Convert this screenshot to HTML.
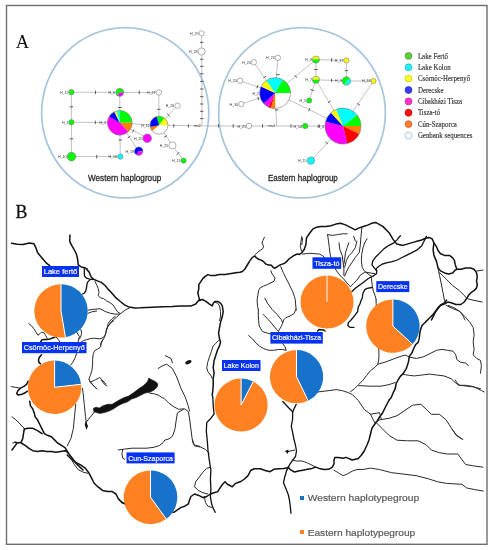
<!DOCTYPE html><html><head><meta charset="utf-8"><style>html,body{margin:0;padding:0;background:#fff;}body{width:492px;height:550px;overflow:hidden;position:relative;}svg{position:absolute;left:0;top:0;}</style></head><body>
<svg width="492" height="550" viewBox="0 0 492 550">
<rect x="6.5" y="5.5" width="480.5" height="538.8" fill="none" stroke="#6e6e6e" stroke-width="1.4"/>
<text x="15.8" y="47.6" font-family="Liberation Serif, serif" font-size="18.5" fill="#111">A</text>
<ellipse cx="125.2" cy="112.8" rx="83.6" ry="85.2" fill="none" stroke="#a6c4de" stroke-width="1.7"/>
<ellipse cx="302.0" cy="112.8" rx="83.4" ry="85.2" fill="none" stroke="#a6c4de" stroke-width="1.7"/>
<line x1="71.4" y1="92.2" x2="119.8" y2="92.4" stroke="#a8a8a8" stroke-width="0.7"/><line x1="71.4" y1="92.2" x2="71.4" y2="122.2" stroke="#a8a8a8" stroke-width="0.7"/><line x1="71.4" y1="122.2" x2="71.5" y2="156.6" stroke="#a8a8a8" stroke-width="0.7"/><line x1="71.5" y1="156.6" x2="120.3" y2="156.6" stroke="#a8a8a8" stroke-width="0.7"/><line x1="120.3" y1="156.6" x2="119.8" y2="122.8" stroke="#a8a8a8" stroke-width="0.7"/><line x1="71.4" y1="122.2" x2="119.8" y2="122.8" stroke="#a8a8a8" stroke-width="0.7"/><line x1="119.8" y1="92.4" x2="119.8" y2="122.8" stroke="#a8a8a8" stroke-width="0.7"/><line x1="119.8" y1="92.4" x2="158.8" y2="92.5" stroke="#a8a8a8" stroke-width="0.7"/><line x1="158.8" y1="92.5" x2="159.0" y2="125.2" stroke="#a8a8a8" stroke-width="0.7"/><line x1="177.5" y1="105.7" x2="159.0" y2="125.2" stroke="#a8a8a8" stroke-width="0.7"/><line x1="119.8" y1="122.8" x2="150" y2="125" stroke="#a8a8a8" stroke-width="0.7"/><line x1="119.8" y1="122.8" x2="147.2" y2="138.2" stroke="#a8a8a8" stroke-width="0.7"/><line x1="119.8" y1="122.8" x2="138.7" y2="151.2" stroke="#a8a8a8" stroke-width="0.7"/><line x1="159.0" y1="125.2" x2="172.4" y2="145.4" stroke="#a8a8a8" stroke-width="0.7"/><line x1="172.4" y1="145.4" x2="183.6" y2="160.6" stroke="#a8a8a8" stroke-width="0.7"/><line x1="159.0" y1="125.2" x2="202.0" y2="125.9" stroke="#a8a8a8" stroke-width="0.7"/><line x1="201.6" y1="33.3" x2="202.0" y2="125.9" stroke="#a8a8a8" stroke-width="0.7"/><line x1="202.0" y1="125.9" x2="249.0" y2="126.0" stroke="#a8a8a8" stroke-width="0.7"/><line x1="249.0" y1="126.0" x2="276.7" y2="126.0" stroke="#a8a8a8" stroke-width="0.7"/><line x1="276.7" y1="126.0" x2="305.2" y2="126.0" stroke="#a8a8a8" stroke-width="0.7"/><line x1="305.2" y1="126.0" x2="343.0" y2="126.1" stroke="#a8a8a8" stroke-width="0.7"/><line x1="276.7" y1="126.0" x2="275.1" y2="93.1" stroke="#a8a8a8" stroke-width="0.7"/><line x1="275.1" y1="93.1" x2="277.9" y2="57.8" stroke="#a8a8a8" stroke-width="0.7"/><line x1="275.1" y1="93.1" x2="253.9" y2="62.3" stroke="#a8a8a8" stroke-width="0.7"/><line x1="275.1" y1="93.1" x2="240.0" y2="80.7" stroke="#a8a8a8" stroke-width="0.7"/><line x1="275.1" y1="93.1" x2="241.3" y2="104.0" stroke="#a8a8a8" stroke-width="0.7"/><line x1="275.1" y1="93.1" x2="315.9" y2="59.6" stroke="#a8a8a8" stroke-width="0.7"/><line x1="275.1" y1="93.1" x2="343.0" y2="126.1" stroke="#a8a8a8" stroke-width="0.7"/><line x1="315.9" y1="59.6" x2="346.4" y2="60.4" stroke="#a8a8a8" stroke-width="0.7"/><line x1="315.9" y1="59.6" x2="315.9" y2="79.8" stroke="#a8a8a8" stroke-width="0.7"/><line x1="346.4" y1="60.4" x2="346.4" y2="81.0" stroke="#a8a8a8" stroke-width="0.7"/><line x1="315.9" y1="79.8" x2="346.4" y2="81.0" stroke="#a8a8a8" stroke-width="0.7"/><line x1="346.4" y1="81.0" x2="373.5" y2="81.0" stroke="#a8a8a8" stroke-width="0.7"/><line x1="373.5" y1="81.0" x2="343.0" y2="126.1" stroke="#a8a8a8" stroke-width="0.7"/><line x1="315.9" y1="79.8" x2="343.0" y2="126.1" stroke="#a8a8a8" stroke-width="0.7"/><line x1="315.9" y1="79.8" x2="309.2" y2="100.5" stroke="#a8a8a8" stroke-width="0.7"/><line x1="311.0" y1="160.6" x2="343.0" y2="126.1" stroke="#a8a8a8" stroke-width="0.7"/><line x1="95.50" y1="90.60" x2="95.50" y2="94.00" stroke="#4a4a4a" stroke-width="0.9"/><line x1="139.30" y1="90.70" x2="139.30" y2="94.10" stroke="#4a4a4a" stroke-width="0.9"/><line x1="95.30" y1="120.70" x2="95.30" y2="124.10" stroke="#4a4a4a" stroke-width="0.9"/><line x1="73.10" y1="106.80" x2="69.70" y2="106.80" stroke="#4a4a4a" stroke-width="0.9"/><line x1="73.20" y1="138.80" x2="69.80" y2="138.80" stroke="#4a4a4a" stroke-width="0.9"/><line x1="96.70" y1="154.90" x2="96.70" y2="158.30" stroke="#4a4a4a" stroke-width="0.9"/><line x1="121.50" y1="107.50" x2="118.10" y2="107.50" stroke="#4a4a4a" stroke-width="0.9"/><line x1="122.00" y1="140.00" x2="118.60" y2="140.00" stroke="#4a4a4a" stroke-width="0.9"/><line x1="160.50" y1="109.30" x2="157.10" y2="109.30" stroke="#4a4a4a" stroke-width="0.9"/><line x1="169.73" y1="116.17" x2="167.27" y2="113.83" stroke="#4a4a4a" stroke-width="0.9"/><line x1="134.03" y1="129.52" x2="132.37" y2="132.48" stroke="#4a4a4a" stroke-width="0.9"/><line x1="130.52" y1="136.06" x2="127.68" y2="137.94" stroke="#4a4a4a" stroke-width="0.9"/><line x1="166.92" y1="135.56" x2="164.08" y2="137.44" stroke="#4a4a4a" stroke-width="0.9"/><line x1="179.37" y1="152.49" x2="176.63" y2="154.51" stroke="#4a4a4a" stroke-width="0.9"/><line x1="173.80" y1="124.10" x2="173.80" y2="127.50" stroke="#4a4a4a" stroke-width="0.9"/><line x1="188.40" y1="124.20" x2="188.40" y2="127.60" stroke="#4a4a4a" stroke-width="0.9"/><line x1="218.40" y1="124.20" x2="218.40" y2="127.60" stroke="#4a4a4a" stroke-width="0.9"/><line x1="233.20" y1="124.30" x2="233.20" y2="127.70" stroke="#4a4a4a" stroke-width="0.9"/><line x1="262.50" y1="124.30" x2="262.50" y2="127.70" stroke="#4a4a4a" stroke-width="0.9"/><line x1="291.00" y1="124.30" x2="291.00" y2="127.70" stroke="#4a4a4a" stroke-width="0.9"/><line x1="319.00" y1="124.30" x2="319.00" y2="127.70" stroke="#4a4a4a" stroke-width="0.9"/><line x1="203.30" y1="42.40" x2="199.90" y2="42.40" stroke="#4a4a4a" stroke-width="0.9"/><line x1="203.50" y1="59.30" x2="200.10" y2="59.30" stroke="#4a4a4a" stroke-width="0.9"/><line x1="203.50" y1="66.40" x2="200.10" y2="66.40" stroke="#4a4a4a" stroke-width="0.9"/><line x1="203.50" y1="73.80" x2="200.10" y2="73.80" stroke="#4a4a4a" stroke-width="0.9"/><line x1="203.50" y1="81.40" x2="200.10" y2="81.40" stroke="#4a4a4a" stroke-width="0.9"/><line x1="203.50" y1="89.00" x2="200.10" y2="89.00" stroke="#4a4a4a" stroke-width="0.9"/><line x1="203.50" y1="96.70" x2="200.10" y2="96.70" stroke="#4a4a4a" stroke-width="0.9"/><line x1="203.50" y1="104.00" x2="200.10" y2="104.00" stroke="#4a4a4a" stroke-width="0.9"/><line x1="203.50" y1="111.30" x2="200.10" y2="111.30" stroke="#4a4a4a" stroke-width="0.9"/><line x1="203.50" y1="118.60" x2="200.10" y2="118.60" stroke="#4a4a4a" stroke-width="0.9"/><line x1="278.40" y1="110.00" x2="275.00" y2="110.00" stroke="#4a4a4a" stroke-width="0.9"/><line x1="279.60" y1="74.70" x2="276.20" y2="74.70" stroke="#4a4a4a" stroke-width="0.9"/><line x1="266.10" y1="76.04" x2="263.30" y2="77.96" stroke="#4a4a4a" stroke-width="0.9"/><line x1="257.97" y1="85.00" x2="256.83" y2="88.20" stroke="#4a4a4a" stroke-width="0.9"/><line x1="257.78" y1="96.78" x2="258.82" y2="100.02" stroke="#4a4a4a" stroke-width="0.9"/><line x1="296.88" y1="77.81" x2="294.72" y2="75.19" stroke="#4a4a4a" stroke-width="0.9"/><line x1="310.04" y1="108.07" x2="308.56" y2="111.13" stroke="#4a4a4a" stroke-width="0.9"/><line x1="331.60" y1="58.20" x2="331.60" y2="61.60" stroke="#4a4a4a" stroke-width="0.9"/><line x1="331.60" y1="78.60" x2="331.60" y2="82.00" stroke="#4a4a4a" stroke-width="0.9"/><line x1="317.60" y1="69.50" x2="314.20" y2="69.50" stroke="#4a4a4a" stroke-width="0.9"/><line x1="348.10" y1="70.70" x2="344.70" y2="70.70" stroke="#4a4a4a" stroke-width="0.9"/><line x1="360.11" y1="105.35" x2="357.29" y2="103.45" stroke="#4a4a4a" stroke-width="0.9"/><line x1="330.87" y1="100.94" x2="327.93" y2="102.66" stroke="#4a4a4a" stroke-width="0.9"/><line x1="313.72" y1="90.52" x2="310.48" y2="89.48" stroke="#4a4a4a" stroke-width="0.9"/><line x1="325.35" y1="141.64" x2="327.85" y2="143.96" stroke="#4a4a4a" stroke-width="0.9"/><circle cx="71.4" cy="92.2" r="2.6" fill="#00ff00"/><circle cx="71.4" cy="92.2" r="2.6" fill="none" stroke="#7a7a7a" stroke-width="0.6"/><circle cx="71.4" cy="122.2" r="2.6" fill="#00ff00"/><circle cx="71.4" cy="122.2" r="2.6" fill="none" stroke="#7a7a7a" stroke-width="0.6"/><circle cx="71.5" cy="156.6" r="4.3" fill="#00ff00"/><circle cx="71.5" cy="156.6" r="4.3" fill="none" stroke="#7a7a7a" stroke-width="0.6"/><circle cx="120.3" cy="156.6" r="2.7" fill="#00ffff"/><circle cx="120.3" cy="156.6" r="2.7" fill="none" stroke="#7a7a7a" stroke-width="0.6"/><path d="M119.80,92.40L117.51,95.68A4.00,4.00 0 1 1 123.78,92.75Z" fill="#00ff00"/><path d="M119.80,92.40L123.78,92.75A4.00,4.00 0 0 1 117.51,95.68Z" fill="#ff00ff"/><circle cx="119.8" cy="92.4" r="4.0" fill="none" stroke="#7a7a7a" stroke-width="0.6"/><circle cx="158.8" cy="92.5" r="2.7" fill="#ffffff"/><circle cx="158.8" cy="92.5" r="2.7" fill="none" stroke="#7a7a7a" stroke-width="0.6"/><circle cx="177.5" cy="105.7" r="2.7" fill="#ffffff"/><circle cx="177.5" cy="105.7" r="2.7" fill="none" stroke="#7a7a7a" stroke-width="0.6"/><circle cx="172.4" cy="145.4" r="3.6" fill="#ffffff"/><circle cx="172.4" cy="145.4" r="3.6" fill="none" stroke="#7a7a7a" stroke-width="0.6"/><circle cx="183.6" cy="160.6" r="2.6" fill="#00ff00"/><circle cx="183.6" cy="160.6" r="2.6" fill="none" stroke="#7a7a7a" stroke-width="0.6"/><circle cx="147.2" cy="138.2" r="4.3" fill="#ff00ff"/><circle cx="147.2" cy="138.2" r="4.3" fill="none" stroke="#7a7a7a" stroke-width="0.6"/><path d="M138.70,151.20L136.60,154.84A4.20,4.20 0 1 1 142.88,151.57Z" fill="#0000ff"/><path d="M138.70,151.20L142.88,151.57A4.20,4.20 0 0 1 136.60,154.84Z" fill="#ff00ff"/><circle cx="138.7" cy="151.2" r="4.2" fill="none" stroke="#7a7a7a" stroke-width="0.6"/><path d="M119.80,122.80L119.80,110.40A12.40,12.40 0 0 1 132.20,122.80Z" fill="#00ff00"/><path d="M119.80,122.80L132.20,122.80A12.40,12.40 0 0 1 128.26,131.87Z" fill="#ff8000"/><path d="M119.80,122.80L128.26,131.87A12.40,12.40 0 0 1 109.06,116.60Z" fill="#ff00ff"/><path d="M119.80,122.80L109.06,116.60A12.40,12.40 0 0 1 114.36,111.65Z" fill="#0000ff"/><path d="M119.80,122.80L114.36,111.65A12.40,12.40 0 0 1 116.80,110.77Z" fill="#ffff00"/><path d="M119.80,122.80L116.80,110.77A12.40,12.40 0 0 1 119.80,110.40Z" fill="#00ffff"/><circle cx="119.8" cy="122.8" r="12.4" fill="none" stroke="#7a7a7a" stroke-width="0.6"/><path d="M159.00,125.20L156.59,116.53A9.00,9.00 0 0 1 164.42,118.01Z" fill="#00ff00"/><path d="M159.00,125.20L164.42,118.01A9.00,9.00 0 0 1 168.00,125.20Z" fill="#ffff00"/><path d="M159.00,125.20L168.00,125.20A9.00,9.00 0 0 1 152.11,130.99Z" fill="#ffffff"/><path d="M159.00,125.20L152.11,130.99A9.00,9.00 0 0 1 150.18,126.99Z" fill="#ff8000"/><path d="M159.00,125.20L150.18,126.99A9.00,9.00 0 0 1 156.59,116.53Z" fill="#0000ff"/><circle cx="159.0" cy="125.2" r="9.0" fill="none" stroke="#7a7a7a" stroke-width="0.6"/><circle cx="201.6" cy="33.3" r="2.6" fill="#ffffff"/><circle cx="201.6" cy="33.3" r="2.6" fill="none" stroke="#7a7a7a" stroke-width="0.6"/><circle cx="201.6" cy="51.5" r="3.6" fill="#ffffff"/><circle cx="201.6" cy="51.5" r="3.6" fill="none" stroke="#7a7a7a" stroke-width="0.6"/><path d="M275.10,93.10L266.21,80.40A15.50,15.50 0 0 1 282.85,79.68Z" fill="#00ffff"/><path d="M275.10,93.10L282.85,79.68A15.50,15.50 0 0 1 290.60,93.10Z" fill="#00ff00"/><path d="M275.10,93.10L290.60,93.10A15.50,15.50 0 0 1 275.10,108.60Z" fill="#ffffff"/><path d="M275.10,93.10L275.10,108.60A15.50,15.50 0 0 1 270.91,108.02Z" fill="#ff8000"/><path d="M275.10,93.10L270.91,108.02A15.50,15.50 0 0 1 268.55,107.15Z" fill="#ff0000"/><path d="M275.10,93.10L268.55,107.15A15.50,15.50 0 0 1 263.67,103.57Z" fill="#ff00ff"/><path d="M275.10,93.10L263.67,103.57A15.50,15.50 0 0 1 261.05,86.55Z" fill="#0000ff"/><path d="M275.10,93.10L261.05,86.55A15.50,15.50 0 0 1 266.21,80.40Z" fill="#ffff00"/><circle cx="275.1" cy="93.1" r="15.5" fill="none" stroke="#7a7a7a" stroke-width="0.6"/><circle cx="277.9" cy="57.8" r="2.7" fill="#ffffff"/><circle cx="277.9" cy="57.8" r="2.7" fill="none" stroke="#7a7a7a" stroke-width="0.6"/><circle cx="253.9" cy="62.3" r="2.7" fill="#ffffff"/><circle cx="253.9" cy="62.3" r="2.7" fill="none" stroke="#7a7a7a" stroke-width="0.6"/><circle cx="240.0" cy="80.7" r="2.7" fill="#ffffff"/><circle cx="240.0" cy="80.7" r="2.7" fill="none" stroke="#7a7a7a" stroke-width="0.6"/><circle cx="241.3" cy="104.0" r="2.7" fill="#ffffff"/><circle cx="241.3" cy="104.0" r="2.7" fill="none" stroke="#7a7a7a" stroke-width="0.6"/><circle cx="249.0" cy="126.0" r="2.7" fill="#ffffff"/><circle cx="249.0" cy="126.0" r="2.7" fill="none" stroke="#7a7a7a" stroke-width="0.6"/><circle cx="305.2" cy="126.0" r="2.7" fill="#00ff00"/><circle cx="305.2" cy="126.0" r="2.7" fill="none" stroke="#7a7a7a" stroke-width="0.6"/><circle cx="309.2" cy="100.5" r="2.6" fill="#00ff00"/><circle cx="309.2" cy="100.5" r="2.6" fill="none" stroke="#7a7a7a" stroke-width="0.6"/><circle cx="346.4" cy="60.4" r="2.6" fill="#ffff00"/><circle cx="346.4" cy="60.4" r="2.6" fill="none" stroke="#7a7a7a" stroke-width="0.6"/><circle cx="373.5" cy="81.0" r="2.6" fill="#ffff00"/><circle cx="373.5" cy="81.0" r="2.6" fill="none" stroke="#7a7a7a" stroke-width="0.6"/><circle cx="311.0" cy="160.6" r="3.7" fill="#00ffff"/><circle cx="311.0" cy="160.6" r="3.7" fill="none" stroke="#7a7a7a" stroke-width="0.6"/><path d="M343.00,126.10L335.97,109.53A18.00,18.00 0 0 1 357.18,115.02Z" fill="#00ffff"/><path d="M343.00,126.10L357.18,115.02A18.00,18.00 0 0 1 361.00,126.10Z" fill="#00ff00"/><path d="M343.00,126.10L361.00,126.10A18.00,18.00 0 0 1 359.18,133.99Z" fill="#ff8000"/><path d="M343.00,126.10L359.18,133.99A18.00,18.00 0 0 1 347.20,143.60Z" fill="#ff0000"/><path d="M343.00,126.10L347.20,143.60A18.00,18.00 0 0 1 325.53,121.75Z" fill="#ff00ff"/><path d="M343.00,126.10L325.53,121.75A18.00,18.00 0 0 1 331.05,112.64Z" fill="#0000ff"/><path d="M343.00,126.10L331.05,112.64A18.00,18.00 0 0 1 335.97,109.53Z" fill="#ffff00"/><circle cx="343.0" cy="126.1" r="18.0" fill="none" stroke="#7a7a7a" stroke-width="0.6"/><path d="M315.90,59.60L312.31,59.29A3.60,3.60 0 0 1 319.49,59.29Z" fill="#ffff00"/><path d="M315.90,59.60L319.49,59.29A3.60,3.60 0 1 1 312.31,59.29Z" fill="#00ff00"/><circle cx="315.9" cy="59.6" r="3.6" fill="none" stroke="#7a7a7a" stroke-width="0.6"/><path d="M315.90,79.80L312.31,79.49A3.60,3.60 0 0 1 319.49,79.49Z" fill="#ffff00"/><path d="M315.90,79.80L319.49,79.49A3.60,3.60 0 1 1 312.31,79.49Z" fill="#00ff00"/><circle cx="315.9" cy="79.8" r="3.6" fill="none" stroke="#7a7a7a" stroke-width="0.6"/><path d="M346.40,81.00L344.93,85.04A4.30,4.30 0 1 1 350.12,78.85Z" fill="#00ff00"/><path d="M346.40,81.00L350.12,78.85A4.30,4.30 0 0 1 344.93,85.04Z" fill="#00ffff"/><circle cx="346.4" cy="81.0" r="4.3" fill="none" stroke="#7a7a7a" stroke-width="0.6"/><text x="68.5" y="93.5" font-size="3.6" text-anchor="end" fill="#333" font-family="Liberation Sans, sans-serif">H_12</text><text x="115" y="93.8" font-size="3.6" text-anchor="end" fill="#333" font-family="Liberation Sans, sans-serif">H_6</text><text x="68.5" y="123.6" font-size="3.6" text-anchor="end" fill="#333" font-family="Liberation Sans, sans-serif">H_1</text><text x="106" y="124" font-size="3.6" text-anchor="end" fill="#333" font-family="Liberation Sans, sans-serif">H_3</text><text x="66.5" y="158" font-size="3.6" text-anchor="end" fill="#333" font-family="Liberation Sans, sans-serif">H_10</text><text x="117" y="158" font-size="3.6" text-anchor="end" fill="#333" font-family="Liberation Sans, sans-serif">H_16</text><text x="155.5" y="94" font-size="3.6" text-anchor="end" fill="#333" font-family="Liberation Sans, sans-serif">H_27</text><text x="174.3" y="107" font-size="3.6" text-anchor="end" fill="#333" font-family="Liberation Sans, sans-serif">H_26</text><text x="149.5" y="126.8" font-size="3.6" text-anchor="end" fill="#333" font-family="Liberation Sans, sans-serif">H_11</text><text x="142.5" y="139.6" font-size="3.6" text-anchor="end" fill="#333" font-family="Liberation Sans, sans-serif">H_20</text><text x="134" y="152.6" font-size="3.6" text-anchor="end" fill="#333" font-family="Liberation Sans, sans-serif">H_19</text><text x="168.3" y="147" font-size="3.6" text-anchor="end" fill="#333" font-family="Liberation Sans, sans-serif">H_25</text><text x="180.5" y="162" font-size="3.6" text-anchor="end" fill="#333" font-family="Liberation Sans, sans-serif">H_13</text><text x="198.6" y="34.8" font-size="3.6" text-anchor="end" fill="#333" font-family="Liberation Sans, sans-serif">H_29</text><text x="197.6" y="53" font-size="3.6" text-anchor="end" fill="#333" font-family="Liberation Sans, sans-serif">H_28</text><text x="274.7" y="59.3" font-size="3.6" text-anchor="end" fill="#333" font-family="Liberation Sans, sans-serif">H_22</text><text x="250.8" y="63.8" font-size="3.6" text-anchor="end" fill="#333" font-family="Liberation Sans, sans-serif">H_23</text><text x="236.8" y="82.2" font-size="3.6" text-anchor="end" fill="#333" font-family="Liberation Sans, sans-serif">H_24</text><text x="238.2" y="105.5" font-size="3.6" text-anchor="end" fill="#333" font-family="Liberation Sans, sans-serif">H_30</text><text x="259" y="94.6" font-size="3.6" text-anchor="end" fill="#333" font-family="Liberation Sans, sans-serif">H_2</text><text x="246" y="127.5" font-size="3.6" text-anchor="end" fill="#333" font-family="Liberation Sans, sans-serif">H_21</text><text x="302" y="127.5" font-size="3.6" text-anchor="end" fill="#333" font-family="Liberation Sans, sans-serif">H_14</text><text x="324" y="127.5" font-size="3.6" text-anchor="end" fill="#333" font-family="Liberation Sans, sans-serif">H_4</text><text x="306" y="102" font-size="3.6" text-anchor="end" fill="#333" font-family="Liberation Sans, sans-serif">H_5</text><text x="311.9" y="61" font-size="3.6" text-anchor="end" fill="#333" font-family="Liberation Sans, sans-serif">H_8</text><text x="311.9" y="81.2" font-size="3.6" text-anchor="end" fill="#333" font-family="Liberation Sans, sans-serif">H_7</text><text x="343.4" y="61.8" font-size="3.6" text-anchor="end" fill="#333" font-family="Liberation Sans, sans-serif">H_17</text><text x="341.7" y="82.4" font-size="3.6" text-anchor="end" fill="#333" font-family="Liberation Sans, sans-serif">H_9</text><text x="370.5" y="82.4" font-size="3.6" text-anchor="end" fill="#333" font-family="Liberation Sans, sans-serif">H_18</text><text x="306.6" y="162" font-size="3.6" text-anchor="end" fill="#333" font-family="Liberation Sans, sans-serif">H_15</text><text x="200.8" y="127.3" font-size="3.6" text-anchor="end" fill="#333" font-family="Liberation Sans, sans-serif">mv2</text><text x="275.2" y="127.4" font-size="3.6" text-anchor="end" fill="#333" font-family="Liberation Sans, sans-serif">mv1</text>
<text x="88" y="181.2" font-family="Liberation Sans, sans-serif" font-size="9.1" fill="#2a2a2a" stroke="#2a2a2a" stroke-width="0.3" textLength="73.2" lengthAdjust="spacingAndGlyphs">Western haplogroup</text>
<text x="268" y="181.2" font-family="Liberation Sans, sans-serif" font-size="9.1" fill="#2a2a2a" stroke="#2a2a2a" stroke-width="0.3" textLength="69.8" lengthAdjust="spacingAndGlyphs">Eastern haplogroup</text>
<circle cx="408.5" cy="55.90" r="3.45" fill="#5ccc3c" stroke="#4aa02a" stroke-width="0.7"/>
<text x="417.9" y="58.60" font-family="Liberation Serif, serif" font-size="7.9" fill="#333" stroke="#333" stroke-width="0.15" textLength="30.1" lengthAdjust="spacingAndGlyphs">Lake Fertő</text>
<circle cx="408.5" cy="67.27" r="3.45" fill="#22eeee" stroke="#1cb8c0" stroke-width="0.7"/>
<text x="417.9" y="69.97" font-family="Liberation Serif, serif" font-size="7.9" fill="#333" stroke="#333" stroke-width="0.15" textLength="32.8" lengthAdjust="spacingAndGlyphs">Lake Kolon</text>
<circle cx="408.5" cy="78.64" r="3.45" fill="#ffff22" stroke="#c0c020" stroke-width="0.7"/>
<text x="417.9" y="81.34" font-family="Liberation Serif, serif" font-size="7.9" fill="#333" stroke="#333" stroke-width="0.15" textLength="52.3" lengthAdjust="spacingAndGlyphs">Csörnöc-Herpenyő</text>
<circle cx="408.5" cy="90.01" r="3.45" fill="#3a3af0" stroke="#2a2ac0" stroke-width="0.7"/>
<text x="417.9" y="92.71" font-family="Liberation Serif, serif" font-size="7.9" fill="#333" stroke="#333" stroke-width="0.15" textLength="25.7" lengthAdjust="spacingAndGlyphs">Derecske</text>
<circle cx="408.5" cy="101.38" r="3.45" fill="#ff33cc" stroke="#c020a0" stroke-width="0.7"/>
<text x="417.9" y="104.08" font-family="Liberation Serif, serif" font-size="7.9" fill="#333" stroke="#333" stroke-width="0.15" textLength="44.2" lengthAdjust="spacingAndGlyphs">Cibakházi Tisza</text>
<circle cx="408.5" cy="112.75" r="3.45" fill="#ff1010" stroke="#c00000" stroke-width="0.7"/>
<text x="417.9" y="115.45" font-family="Liberation Serif, serif" font-size="7.9" fill="#333" stroke="#333" stroke-width="0.15" textLength="22.3" lengthAdjust="spacingAndGlyphs">Tisza-tó</text>
<circle cx="408.5" cy="124.12" r="3.45" fill="#ff7f2a" stroke="#c06020" stroke-width="0.7"/>
<text x="417.9" y="126.82" font-family="Liberation Serif, serif" font-size="7.9" fill="#333" stroke="#333" stroke-width="0.15" textLength="39.0" lengthAdjust="spacingAndGlyphs">Cún-Szaporca</text>
<circle cx="408.5" cy="135.49" r="3.45" fill="#ffffff" stroke="#8ab0cc" stroke-width="0.7"/>
<text x="417.9" y="138.19" font-family="Liberation Serif, serif" font-size="7.9" fill="#333" stroke="#333" stroke-width="0.15" textLength="54.5" lengthAdjust="spacingAndGlyphs">Genbank sequences</text>
<text x="15.6" y="218" font-family="Liberation Serif, serif" font-size="19.6" fill="#111" stroke="#111" stroke-width="0.3" textLength="11.9" lengthAdjust="spacingAndGlyphs">B</text>
<path d="M11.5,243.2 L17.2,244.2 L22.9,244.5 L29.4,242.9 L33.9,243.7 L35.9,247.8 L37.5,252.6 L41.6,257.5 L46.5,263.2 L49.7,265.7" fill="none" stroke="#111" stroke-width="1.5" stroke-linejoin="round" stroke-linecap="round"/><path d="M70.0,235.1 L69.7,241.3 L71.7,245.3 L74.9,251.0 L76.5,254.3 L77.8,260.0 L78.1,264.6 L81.2,267.0 L85.0,267.7 L88.9,271.6 L91.2,277.0 L93.5,279.3 L97.4,280.9 L101.3,282.4 L105.1,285.5 L108.2,289.4 L111.3,292.5 L115.2,297.1 L119.8,301.0 L124.5,304.8 L129.1,307.1 L135.0,307.9 L140.5,307.8 L152.7,307.3 L162.4,306.8 L172.2,306.6 L180.5,306.1 L190.7,306.1 L195.7,304.0 L198.6,300.5 L202.3,299.5 L205.9,301.4 L209.5,304.1 L212.3,305.9 L213.2,303.2 L215.0,301.4 L217.7,301.4 L220.5,303.2 L222.3,305.9 L223.2,311.4 L222.3,316.8 L220.5,322.3 L219.5,327.7 L218.6,333.2 L219.5,338.6 L220.5,342.3 L219.5,345.9 L217.7,349.5 L215.9,355.0 L214.1,360.5 L213.2,367.7 L214.1,373.2 L213.2,378.6 L213.2,385.9 L212.3,395.0" fill="none" stroke="#111" stroke-width="1.5" stroke-linejoin="round" stroke-linecap="round"/><path d="M199.8,300.6 L198.8,296.9 L197.8,292.8 L198.8,288.8 L198.8,284.7 L200.8,281.7 L202.8,278.6 L204.9,276.6 L207.9,274.6 L211.0,275.6 L215.0,275.6 L219.1,274.6 L225.2,274.6 L231.3,273.5 L237.4,272.5 L240.0,272.3 L242.4,271.5 L244.9,269.0 L247.3,265.0 L249.8,260.9 L252.2,257.6 L254.6,256.0 L256.3,257.6 L258.7,259.3 L261.1,260.1 L263.6,261.7 L266.0,264.1 L268.5,265.0 L270.9,265.0 L273.3,267.4 L275.0,268.2 L277.4,266.6 L279.8,265.0 L282.3,264.1 L284.7,263.3 L287.2,260.9 L289.6,258.5 L292.0,256.8 L294.5,255.2 L296.9,254.1 L299.3,254.4 L301.8,252.8 L304.2,249.5 L305.9,244.6 L306.5,237.9 L309.8,233.0 L313.0,228.9 L316.3,227.3 L321.1,226.5 L326.0,226.5 L330.9,225.7 L335.8,224.1 L340.7,223.3 L345.5,224.9 L350.4,227.3 L355.3,229.8 L358.5,228.1 L363.4,226.5 L368.3,224.9 L371.5,223.3 L375.6,222.4 L382.8,226.4 L389.1,232.7 L392.9,239.1 L396.8,244.1 L403.1,245.4 L409.5,243.4 L415.8,241.6 L420.9,240.3 L425.7,238.2 L429.0,237.4 L432.3,239.0 L433.9,243.1 L436.4,246.4 L438.0,250.5 L440.5,253.7 L444.5,255.4 L449.5,255.4 L452.7,257.8 L454.4,260.3 L455.2,264.4 L456.8,269.3 L460.9,269.3 L465.8,268.0 L470.7,268.0 L474.0,269.3 L476.5,272.6 L477.3,276.6 L476.5,280.7 L477.3,284.8 L476.5,288.1 L474.0,290.6 L471.6,292.2 L469.1,294.6 L467.5,297.1 L464.2,302.0 L460.9,304.5 L456.0,304.5 L451.1,302.8 L447.8,302.0 L445.4,303.6 L442.9,304.5 L440.5,305.3 L438.0,308.6 L435.5,311.8 L433.1,316.7 L431.5,320.0" fill="none" stroke="#111" stroke-width="1.5" stroke-linejoin="round" stroke-linecap="round"/><path d="M433.9,243.1 L433.1,249.6 L433.9,255.4 L436.4,261.1 L438.0,267.6 L440.5,270.9 L444.5,272.9 L448.6,273.9 L452.7,272.9 L455.2,270.1 L456.8,269.3" fill="none" stroke="#111" stroke-width="1.5" stroke-linejoin="round" stroke-linecap="round"/><path d="M438.0,268.5 L439.6,275.8 L441.3,284.0 L442.9,292.2 L444.5,300.4 L445.4,303.6" fill="none" stroke="#2a2a2a" stroke-width="1.0" stroke-linejoin="round" stroke-linecap="round"/><path d="M439.6,272.6 L446.2,279.1 L452.7,285.6 L459.3,290.6 L464.2,295.5 L467.5,298.7 L474.0,300.4 L482.2,302.0" fill="none" stroke="#2a2a2a" stroke-width="1.0" stroke-linejoin="round" stroke-linecap="round"/><path d="M446.2,305.3 L452.7,308.6 L459.3,311.0 L462.6,315.1 L465.0,320.0" fill="none" stroke="#2a2a2a" stroke-width="1.0" stroke-linejoin="round" stroke-linecap="round"/><path d="M476.5,271.0 L483.0,270.1" fill="none" stroke="#2a2a2a" stroke-width="1.0" stroke-linejoin="round" stroke-linecap="round"/><path d="M367.1,238.8 L364.6,242.9 L363.0,247.8 L361.7,254.3 L361.4,260.8 L362.2,267.3 L364.6,271.3 L367.9,273.8 L371.1,276.2" fill="none" stroke="#2a2a2a" stroke-width="1.0" stroke-linejoin="round" stroke-linecap="round"/><path d="M400.4,235.6 L397.2,239.6 L393.9,242.9 L389.0,245.3 L384.1,248.6 L380.1,252.6 L376.0,256.7 L372.8,260.8 L372.0,264.8 L374.4,268.1 L376.8,270.5" fill="none" stroke="#111" stroke-width="1.3" stroke-linejoin="round" stroke-linecap="round"/><path d="M426.4,236.4 L424.0,241.3 L421.5,246.1 L416.7,250.2 L411.8,252.6 L406.9,255.1 L402.0,257.5 L397.2,260.0 L392.3,261.6 L387.4,262.7 L382.5,264.0 L378.5,266.5 L376.0,268.9 L376.8,272.2 L376.4,273.7 L373.2,276.1 L368.3,278.5 L361.8,283.4 L355.3,288.3 L352.0,291.5" fill="none" stroke="#111" stroke-width="1.3" stroke-linejoin="round" stroke-linecap="round"/><path d="M371.5,276.0 L371.5,278.7 L372.1,284.8 L373.3,290.9 L375.1,295.7 L376.3,300.0" fill="none" stroke="#2a2a2a" stroke-width="1.0" stroke-linejoin="round" stroke-linecap="round"/><path d="M28.8,323.7 L31.2,325.5 L33.7,328.5 L36.1,332.2 L37.9,335.2 L40.4,333.4 L41.6,332.2 L44.0,332.8 L45.9,335.9 L47.1,338.3" fill="none" stroke="#2a2a2a" stroke-width="1.0" stroke-linejoin="round" stroke-linecap="round"/><path d="M40.4,342.6 L41.6,340.1 L44.0,339.5 L47.1,339.5 L50.1,338.9 L53.2,337.7 L55.0,337.1" fill="none" stroke="#111" stroke-width="1.5" stroke-linejoin="round" stroke-linecap="round"/><path d="M56.2,337.1 L58.7,340.1 L60.0,342.0" fill="none" stroke="#2a2a2a" stroke-width="1.0" stroke-linejoin="round" stroke-linecap="round"/><path d="M41.6,354.8 L40.4,356.0 L39.1,357.8 L38.5,360.2 L39.1,362.7 L40.4,363.7" fill="none" stroke="#111" stroke-width="1.5" stroke-linejoin="round" stroke-linecap="round"/><path d="M75.7,330.5 L79.4,336.6 L78.2,341.5" fill="none" stroke="#2a2a2a" stroke-width="1.0" stroke-linejoin="round" stroke-linecap="round"/><path d="M29.7,401.3 L30.5,405.9 L32.8,409.0 L34.4,413.6 L35.1,416.7 L37.5,419.8 L39.8,424.5 L42.1,429.1 L44.4,433.7 L47.5,435.3 L51.4,436.8 L54.5,439.9 L57.6,443.0 L61.4,445.3 L65.0,447.6 L68.4,453.2 L72.1,458.0 L75.7,462.9 L79.4,466.6 L83.0,470.0" fill="none" stroke="#111" stroke-width="1.5" stroke-linejoin="round" stroke-linecap="round"/><path d="M75.7,404.4 L74.5,416.6 L73.3,428.8 L70.9,438.5 L67.2,445.9" fill="none" stroke="#2a2a2a" stroke-width="1.0" stroke-linejoin="round" stroke-linecap="round"/><path d="M86.7,421.5 L92.8,414.1 L95.2,410.5" fill="none" stroke="#2a2a2a" stroke-width="1.0" stroke-linejoin="round" stroke-linecap="round"/><path d="M89.1,380.0 L92.8,384.9 L96.5,388.5" fill="none" stroke="#2a2a2a" stroke-width="1.0" stroke-linejoin="round" stroke-linecap="round"/><path d="M101.3,380.0 L103.8,383.7 L107.0,386.0" fill="none" stroke="#2a2a2a" stroke-width="1.0" stroke-linejoin="round" stroke-linecap="round"/><path d="M67.2,455.0 L70.9,458.7 L75.7,462.3 L80.6,464.8 L85.5,468.4 L89.1,473.3 L91.6,478.2 L94.0,483.0 L97.7,486.7 L102.6,490.4 L107.4,491.6 L112.3,491.6 L116.0,494.0 L118.4,498.9 L122.1,502.6 L125.0,503.8" fill="none" stroke="#111" stroke-width="1.5" stroke-linejoin="round" stroke-linecap="round"/><path d="M70.9,458.7 L74.5,464.8 L78.2,469.6 L83.0,472.1 L87.9,473.3" fill="none" stroke="#2a2a2a" stroke-width="1.0" stroke-linejoin="round" stroke-linecap="round"/><path d="M258.4,310.0 L258.3,316.0 L259.1,325.8 L262.4,331.5 L267.3,333.1 L270.5,333.9" fill="none" stroke="#2a2a2a" stroke-width="1.0" stroke-linejoin="round" stroke-linecap="round"/><path d="M296.2,310.0 L295.7,309.5 L294.1,313.6 L290.0,316.0 L286.0,317.6 L283.5,320.1 L282.7,323.3 L281.1,326.6 L278.7,330.7" fill="none" stroke="#2a2a2a" stroke-width="1.0" stroke-linejoin="round" stroke-linecap="round"/><path d="M264.8,298.1 L267.3,303.0 L272.2,309.5 L277.0,314.4 L281.1,319.3 L282.7,322.5" fill="none" stroke="#2a2a2a" stroke-width="1.0" stroke-linejoin="round" stroke-linecap="round"/><path d="M263.2,314.4 L267.3,318.5 L272.2,324.1 L276.2,329.0 L278.7,331.5" fill="none" stroke="#2a2a2a" stroke-width="1.0" stroke-linejoin="round" stroke-linecap="round"/><path d="M282.7,343.7 L285.2,346.9 L286.0,350.0" fill="none" stroke="#2a2a2a" stroke-width="1.0" stroke-linejoin="round" stroke-linecap="round"/><path d="M248.6,335.5 L252.5,338.9 L255.8,343.0 L259.8,346.3 L263.9,348.7 L268.8,350.3 L273.7,350.3 L278.5,349.5 L282.6,349.5 L285.9,350.3" fill="none" stroke="#2a2a2a" stroke-width="1.0" stroke-linejoin="round" stroke-linecap="round"/><path d="M371.8,287.5 L367.2,288.4 L364.8,289.6 L362.9,293.3 L362.3,298.0 L361.2,300.0 L360.0,303.7 L358.2,307.3 L357.6,311.6 L355.1,315.2 L351.5,319.5 L348.4,322.6 L347.8,325.6 L350.2,327.4 L353.9,327.4" fill="none" stroke="#111" stroke-width="1.3" stroke-linejoin="round" stroke-linecap="round"/><path d="M377.9,364.2 L385.0,362.2 L393.2,359.1 L401.3,356.1 L405.4,355.1 L409.4,357.1 L416.5,358.5 L423.8,356.7 L431.1,353.0 L436.6,350.3 L442.1,349.4 L447.6,350.3 L453.0,351.2 L455.8,354.9 L456.7,359.4 L460.4,362.2 L465.8,363.1 L468.6,365.8" fill="none" stroke="#2a2a2a" stroke-width="1.0" stroke-linejoin="round" stroke-linecap="round"/><path d="M446.6,300.0 L444.8,302.7 L441.2,304.6 L438.4,307.3 L435.7,311.0 L432.9,314.6 L429.3,318.3 L425.6,321.9 L422.0,325.6 L420.1,331.1 L419.2,338.4 L418.3,342.1 L415.5,344.8 L413.7,348.5 L411.9,353.0 L409.4,356.1 L408.4,362.2 L406.4,368.3 L403.3,373.4 L400.3,376.4 L398.3,379.5 L396.2,383.5 L395.2,388.6 L393.2,392.7 L391.1,397.8 L389.1,400.0" fill="none" stroke="#111" stroke-width="1.5" stroke-linejoin="round" stroke-linecap="round"/><path d="M448.5,305.5 L454.9,308.2 L460.4,311.9 L464.9,316.5 L469.5,321.9 L473.2,327.4 L474.1,334.8 L473.2,342.1 L474.1,349.4 L473.2,354.9 L476.8,358.5 L480.5,360.4 L481.4,365.8 L480.5,373.2" fill="none" stroke="#2a2a2a" stroke-width="1.0" stroke-linejoin="round" stroke-linecap="round"/><path d="M403.3,374.4 L409.4,375.4 L414.6,375.9 L422.0,375.0 L429.3,374.1 L436.6,375.0 L443.9,375.9 L451.2,378.7 L454.9,382.3 L458.5,385.1 L465.8,386.0 L473.2,386.9 L480.5,388.7" fill="none" stroke="#2a2a2a" stroke-width="1.0" stroke-linejoin="round" stroke-linecap="round"/><path d="M149.7,393.1 L154.2,393.8 L158.7,395.3 L162.0,397.6 L164.0,398.3 L168.9,403.2 L173.8,406.8 L178.7,409.3 L184.8,408.8 L188.4,411.7 L189.6,419.0 L190.9,428.8 L192.1,438.5 L194.5,445.9 L200.6,447.1 L205.5,449.5 L209.1,453.2" fill="none" stroke="#2a2a2a" stroke-width="1.0" stroke-linejoin="round" stroke-linecap="round"/><path d="M183.5,409.3 L177.4,412.9 L176.2,420.2 L175.0,428.8 L172.6,436.1 L168.9,439.0 L164.9,440.0 L163.0,442.7 L159.4,445.5 L153.9,447.3 L146.6,448.2 L139.3,448.2 L132.0,448.2 L124.6,449.1 L118.2,450.0" fill="none" stroke="#2a2a2a" stroke-width="1.0" stroke-linejoin="round" stroke-linecap="round"/><path d="M122.8,449.5 L121.9,453.7 L122.8,458.3 L124.6,459.2" fill="none" stroke="#2a2a2a" stroke-width="1.0" stroke-linejoin="round" stroke-linecap="round"/><path d="M212.3,395.0 L212.8,397.1 L213.3,406.8 L214.1,413.9 L210.5,418.8 L206.8,422.4 L206.3,431.0 L207.3,440.7 L208.0,450.5 L209.3,460.2 L210.4,467.2 L210.9,469.6 L210.4,479.4 L210.9,489.1 L210.4,496.5 L211.6,503.8 L212.8,507.4 L215.2,512.3" fill="none" stroke="#111" stroke-width="1.3" stroke-linejoin="round" stroke-linecap="round"/><path d="M210.4,467.2 L206.7,468.4 L203.0,472.1 L199.4,477.0 L195.7,481.8 L194.5,486.7 L198.2,490.4 L203.0,492.8 L207.9,494.0" fill="none" stroke="#2a2a2a" stroke-width="1.0" stroke-linejoin="round" stroke-linecap="round"/><path d="M204.3,496.5 L205.5,502.6 L207.9,506.2 L211.6,507.4" fill="none" stroke="#2a2a2a" stroke-width="1.0" stroke-linejoin="round" stroke-linecap="round"/><path d="M192.3,440.0 L193.2,443.7 L196.0,445.5 L200.0,446.4" fill="none" stroke="#2a2a2a" stroke-width="1.0" stroke-linejoin="round" stroke-linecap="round"/><path d="M122.1,502.6 L125.0,503.8 L140.0,507.0 L160.0,511.0 L173.8,512.3 L177.4,509.9 L181.1,507.4 L184.8,506.2 L188.4,503.8 L189.6,500.1 L190.9,496.5 L194.5,494.0 L198.2,495.2 L203.0,497.7 L206.7,496.5 L210.4,494.0 L214.0,492.8 L217.7,491.6 L220.1,487.9 L222.6,484.3 L225.0,481.8 L227.4,484.3 L229.9,485.5 L232.3,486.8 L234.8,483.9 L237.2,482.7 L240.9,481.5 L244.5,479.0 L248.2,475.4 L250.6,470.5 L254.3,468.8 L260.4,468.8 L265.2,470.5 L270.1,471.7 L273.8,469.3 L278.7,468.8 L283.7,468.4 L288.2,467.4 L291.0,470.2 L294.6,472.0 L298.3,471.1 L302.9,470.2 L307.4,469.3 L312.0,468.4 L315.7,467.1 L319.3,468.4 L323.9,469.6 L328.5,469.3 L332.1,467.4 L334.0,463.8 L334.0,460.1 L334.9,457.4 L338.5,457.4 L343.1,458.3 L346.1,457.4 L352.2,460.0 L358.3,458.4 L361.5,455.0 L364.4,450.8 L367.0,445.0 L369.0,440.0 L370.5,434.0 L372.0,428.0 L376.6,421.8 L379.6,417.0 L382.7,412.7 L386.0,406.0 L389.1,400.0" fill="none" stroke="#111" stroke-width="1.5" stroke-linejoin="round" stroke-linecap="round"/><path d="M282.8,401.5 L288.9,408.0 L292.6,411.7" fill="none" stroke="#111" stroke-width="1.3" stroke-linejoin="round" stroke-linecap="round"/><path d="M296.2,404.4 L293.8,409.3 L292.6,412.9 L292.6,419.0 L291.3,426.3 L292.6,432.4 L293.8,438.5 L295.0,443.4 L295.5,445.5 L296.5,451.0 L295.5,456.5 L292.8,460.1 L290.1,463.8 L288.2,467.4 L286.4,471.1 L285.5,474.8 L284.8,476.6 L283.5,482.7 L286.0,488.8 L288.4,494.9 L289.6,501.0 L290.4,507.1 L290.9,513.2" fill="none" stroke="#111" stroke-width="1.3" stroke-linejoin="round" stroke-linecap="round"/><path d="M286.4,451.9 L294.6,450.1" fill="none" stroke="#2a2a2a" stroke-width="1.0" stroke-linejoin="round" stroke-linecap="round"/><path d="M291.9,460.1 L296.5,461.0 L302.0,461.0 L307.4,462.9 L312.9,465.6 L315.7,467.1" fill="none" stroke="#2a2a2a" stroke-width="1.0" stroke-linejoin="round" stroke-linecap="round"/><path d="M334.0,470.2 L338.5,472.9 L343.1,475.7 L347.7,473.8 L352.3,471.1 L356.8,469.6 L364.1,469.3 L370.5,468.1 L379.6,469.6 L391.8,472.7 L404.0,474.2 L416.2,475.7 L428.4,478.8 L437.6,481.8 L446.7,483.4 L462.0,484.3 L466.5,487.9 L474.1,489.5 L483.3,491.0" fill="none" stroke="#2a2a2a" stroke-width="1.0" stroke-linejoin="round" stroke-linecap="round"/><path d="M381.1,419.6 L389.1,418.3 L397.0,415.7 L404.9,410.4 L412.8,405.1 L420.8,404.3 L426.1,409.1 L431.3,414.3 L439.3,414.3 L445.9,419.6 L451.1,427.6 L456.4,435.5 L463.0,439.4" fill="none" stroke="#2a2a2a" stroke-width="1.0" stroke-linejoin="round" stroke-linecap="round"/><path d="M375.9,422.3 L382.5,428.9 L389.1,435.5 L397.0,440.2 L407.6,440.8 L418.1,440.8 L426.1,444.7 L431.3,450.0 L439.3,452.7 L447.2,454.0 L457.8,454.0 L461.7,459.3 L465.7,464.5 L473.6,465.9 L482.9,467.2" fill="none" stroke="#2a2a2a" stroke-width="1.0" stroke-linejoin="round" stroke-linecap="round"/><path d="M455.1,380.0 L459.1,385.3 L465.7,385.3 L473.6,386.6 L481.5,390.6 L484.2,391.9" fill="none" stroke="#2a2a2a" stroke-width="1.0" stroke-linejoin="round" stroke-linecap="round"/><path d="M452.8,430.0 L455.9,434.6 L462.0,439.1" fill="none" stroke="#2a2a2a" stroke-width="1.0" stroke-linejoin="round" stroke-linecap="round"/><path d="M84.3,268.5 L84.3,272.4 L84.6,276.2 L86.6,278.2 L90.5,279.3 L93.5,279.3" fill="none" stroke="#111" stroke-width="1.3" stroke-linejoin="round" stroke-linecap="round"/><path d="M84.3,268.5 L87.4,268.5" fill="none" stroke="#2a2a2a" stroke-width="1.0" stroke-linejoin="round" stroke-linecap="round"/><path d="M89.7,280.1 L87.4,282.4 L86.6,287.0 L85.8,290.9 L84.3,293.2 L82.7,294.0" fill="none" stroke="#111" stroke-width="1.3" stroke-linejoin="round" stroke-linecap="round"/><path d="M95.1,281.6 L96.6,284.7 L98.2,288.6 L99.0,292.5 L98.2,295.5 L100.5,297.9 L103.6,298.6 L106.7,301.0 L109.8,302.5 L112.9,304.8 L114.4,307.1 L116.0,309.5 L117.5,311.8 L119.8,313.3" fill="none" stroke="#2a2a2a" stroke-width="1.0" stroke-linejoin="round" stroke-linecap="round"/><path d="M88.1,310.2 L92.0,309.5 L95.9,309.1 L99.7,308.7 L102.8,310.2 L105.9,311.8 L110.5,313.3 L115.2,314.1 L119.8,314.1 L122.9,311.8 L126.0,309.5 L129.1,308.2" fill="none" stroke="#2a2a2a" stroke-width="1.0" stroke-linejoin="round" stroke-linecap="round"/><path d="M88.1,313.3 L92.0,311.8 L96.6,311.0" fill="none" stroke="#2a2a2a" stroke-width="1.0" stroke-linejoin="round" stroke-linecap="round"/><path d="M119.8,314.1 L116.7,317.2 L113.6,319.5 L111.3,321.8 L109.0,324.9 L106.7,328.8 L105.9,332.6 L105.1,335.7 L103.6,338.8 L101.3,341.9 L100.5,345.0" fill="none" stroke="#2a2a2a" stroke-width="1.0" stroke-linejoin="round" stroke-linecap="round"/><path d="M115.2,316.4 L112.1,318.7 L109.8,321.1 L108.2,323.4 L107.5,326.5 L106.4,330.2" fill="none" stroke="#2a2a2a" stroke-width="1.0" stroke-linejoin="round" stroke-linecap="round"/><path d="M113.7,320.7 L110.8,322.9 L107.8,326.6 L106.4,330.2 L105.7,333.8 L104.2,336.7 L102.0,338.2 L99.1,338.9 L94.7,338.2 L90.4,338.6 L86.7,339.7 L83.8,340.4 L81.6,341.8" fill="none" stroke="#2a2a2a" stroke-width="1.0" stroke-linejoin="round" stroke-linecap="round"/><path d="M102.8,339.7 L101.3,343.3 L100.6,346.9 L97.7,349.1 L94.7,350.6 L93.3,353.5 L92.6,359.3 L92.6,365.1 L91.8,370.9 L90.4,375.3 L88.9,379.0 L90.4,382.6 L93.3,385.5 L96.9,389.1" fill="none" stroke="#2a2a2a" stroke-width="1.0" stroke-linejoin="round" stroke-linecap="round"/><path d="M91.1,381.9 L95.5,379.7 L99.8,377.5 L102.0,379.7 L105.7,384.0" fill="none" stroke="#2a2a2a" stroke-width="1.0" stroke-linejoin="round" stroke-linecap="round"/><path d="M80.9,329.5 L81.6,333.1 L80.9,336.0 L79.5,338.9" fill="none" stroke="#2a2a2a" stroke-width="1.0" stroke-linejoin="round" stroke-linecap="round"/><path d="M76.6,353.5 L75.1,357.8 L72.9,362.2 L70.7,365.1" fill="none" stroke="#2a2a2a" stroke-width="1.0" stroke-linejoin="round" stroke-linecap="round"/><path d="M82.4,388.4 L83.1,392.8 L83.8,400.0 L84.3,404.4 L85.5,416.6 L86.7,425.1" fill="none" stroke="#2a2a2a" stroke-width="1.0" stroke-linejoin="round" stroke-linecap="round"/><path d="M264.4,237.3 L262.8,240.6 L262.0,243.0 L263.6,246.3 L262.8,248.7 L260.3,250.3 L257.9,252.0 L255.4,254.4 L254.6,256.0" fill="none" stroke="#2a2a2a" stroke-width="1.0" stroke-linejoin="round" stroke-linecap="round"/><path d="M280.7,266.6 L283.1,272.3 L285.5,277.2 L288.0,282.0 L290.4,286.9 L292.8,291.8 L294.5,296.7 L295.3,300.0 L295.7,305.0 L296.2,310.0" fill="none" stroke="#2a2a2a" stroke-width="1.0" stroke-linejoin="round" stroke-linecap="round"/><path d="M270.9,270.7 L271.7,273.1 L273.3,275.5 L275.0,278.0 L274.1,281.2 L270.9,282.8 L267.6,284.5 L263.6,286.1 L260.3,287.7 L258.7,290.2 L257.9,295.0 L257.1,300.0 L257.5,306.3 L258.4,310.0" fill="none" stroke="#2a2a2a" stroke-width="1.0" stroke-linejoin="round" stroke-linecap="round"/><path d="M301.8,236.5 L301.0,241.4 L300.2,246.3 L301.5,251.1" fill="none" stroke="#2a2a2a" stroke-width="1.0" stroke-linejoin="round" stroke-linecap="round"/><path d="M302.6,238.1 L301.8,244.6" fill="none" stroke="#2a2a2a" stroke-width="1.0" stroke-linejoin="round" stroke-linecap="round"/><path d="M302.6,254.1 L309.8,253.3 L319.5,254.1 L322.8,255.8 L326.0,259.0 L329.3,261.5" fill="none" stroke="#2a2a2a" stroke-width="1.0" stroke-linejoin="round" stroke-linecap="round"/><path d="M327.6,234.6 L328.5,241.1 L329.3,247.6 L330.1,254.1 L331.7,260.7 L334.1,267.2 L337.4,272.0 L340.7,276.1 L343.9,279.3 L347.0,283.0 L350.4,286.7" fill="none" stroke="#2a2a2a" stroke-width="1.0" stroke-linejoin="round" stroke-linecap="round"/><path d="M327.6,234.6 L332.5,235.4 L337.4,234.6 L342.3,233.8 L347.2,233.8" fill="none" stroke="#2a2a2a" stroke-width="1.0" stroke-linejoin="round" stroke-linecap="round"/><path d="M339.0,242.8 L339.8,249.3 L342.3,255.8 L343.1,262.3 L343.9,268.8 L343.9,275.3" fill="none" stroke="#2a2a2a" stroke-width="1.0" stroke-linejoin="round" stroke-linecap="round"/><path d="M348.8,242.8 L347.2,247.6 L345.5,252.5 L344.7,259.0 L343.9,263.9" fill="none" stroke="#2a2a2a" stroke-width="1.0" stroke-linejoin="round" stroke-linecap="round"/><path d="M356.9,241.1 L355.3,247.6 L352.0,252.5 L348.8,255.8 L346.3,260.7 L344.7,267.2" fill="none" stroke="#2a2a2a" stroke-width="1.0" stroke-linejoin="round" stroke-linecap="round"/><path d="M353.7,236.3 L355.3,241.1" fill="none" stroke="#2a2a2a" stroke-width="1.0" stroke-linejoin="round" stroke-linecap="round"/><path d="M361.8,228.1 L361.0,236.3 L360.2,246.0 L359.3,252.5 L355.3,257.4 L352.0,262.3 L348.8,267.2 L346.3,272.0 L344.7,276.1" fill="none" stroke="#2a2a2a" stroke-width="1.0" stroke-linejoin="round" stroke-linecap="round"/><path d="M374.8,273.7 L365.0,272.0 L360.2,275.3 L356.9,280.2 L353.7,283.4 L350.4,286.7" fill="none" stroke="#2a2a2a" stroke-width="1.0" stroke-linejoin="round" stroke-linecap="round"/><path d="M11.2,386.6 L15.8,387.4 L19.7,388.1" fill="none" stroke="#2a2a2a" stroke-width="1.0" stroke-linejoin="round" stroke-linecap="round"/><path d="M28.2,381.2 L26.6,384.3 L23.5,386.6 L20.5,388.1 L18.1,390.5 L16.6,393.5 L18.1,395.1 L22.0,394.3 L25.1,392.8 L27.4,391.2" fill="none" stroke="#111" stroke-width="1.5" stroke-linejoin="round" stroke-linecap="round"/><path d="M12.0,416.7 L15.8,419.8 L18.9,422.9 L22.0,426.0 L24.3,428.3" fill="none" stroke="#2a2a2a" stroke-width="1.0" stroke-linejoin="round" stroke-linecap="round"/><path d="M24.3,429.1 L28.2,428.3 L32.8,428.3 L37.5,430.6 L42.1,433.7" fill="none" stroke="#111" stroke-width="1.5" stroke-linejoin="round" stroke-linecap="round"/><path d="M24.3,429.1 L23.5,433.7 L22.8,438.4 L21.2,442.2 L18.1,443.0 L15.0,442.2" fill="none" stroke="#111" stroke-width="1.5" stroke-linejoin="round" stroke-linecap="round"/><path d="M15.0,442.2 L12.7,443.0" fill="none" stroke="#2a2a2a" stroke-width="1.0" stroke-linejoin="round" stroke-linecap="round"/><path d="M16.6,443.8 L14.3,446.9 L12.0,450.0" fill="none" stroke="#111" stroke-width="1.5" stroke-linejoin="round" stroke-linecap="round"/><path d="M21.2,443.0 L25.1,445.3 L29.0,448.4 L32.8,450.7 L37.5,451.5 L42.1,450.7 L46.7,451.5 L51.4,451.5 L56.0,452.3 L60.6,451.5 L65.0,450.7 L66.5,451.5 L68.4,453.2" fill="none" stroke="#111" stroke-width="1.5" stroke-linejoin="round" stroke-linecap="round"/><path d="M218.6,340.5 L215.9,343.2 L213.2,345.9 L211.4,351.4 L209.5,356.8 L207.7,362.3 L206.8,367.7 L207.7,371.4 L210.5,375.0 L212.3,378.6" fill="none" stroke="#2a2a2a" stroke-width="1.0" stroke-linejoin="round" stroke-linecap="round"/><path d="M215.0,302.3 L217.7,303.2 L219.5,305.9 L220.5,311.4 L220.5,316.8 L219.5,320.5" fill="none" stroke="#2a2a2a" stroke-width="1.0" stroke-linejoin="round" stroke-linecap="round"/><path d="M315.7,392.2 L320.0,391.7 L328.1,390.7 L336.3,389.6 L342.4,390.7 L348.5,392.7 L352.5,394.7 L355.6,397.8 L358.3,400.5 L364.4,409.6 L370.5,414.2 L373.5,420.3 L375.0,423.4" fill="none" stroke="#2a2a2a" stroke-width="1.0" stroke-linejoin="round" stroke-linecap="round"/><path d="M376.0,300.0 L377.0,320.0 L377.5,340.0 L378.9,350.0 L378.9,358.1 L377.9,364.2 L374.9,367.3 L370.8,370.3 L366.7,375.4 L362.7,380.5 L358.6,384.6 L354.6,388.6 L350.5,391.7" fill="none" stroke="#2a2a2a" stroke-width="1.0" stroke-linejoin="round" stroke-linecap="round"/><path d="M358.6,385.6 L370.8,386.2 L381.0,386.2 L389.1,384.6 L395.2,382.5" fill="none" stroke="#2a2a2a" stroke-width="1.0" stroke-linejoin="round" stroke-linecap="round"/><path d="M370.5,414.2 L379.6,412.7 L381.2,418.8 L376.6,421.8" fill="none" stroke="#2a2a2a" stroke-width="1.0" stroke-linejoin="round" stroke-linecap="round"/><path d="M317.5,331.0 L319.1,329.6 L323.4,329.9 L325.0,331.0" fill="none" stroke="#111" stroke-width="1.5" stroke-linejoin="round" stroke-linecap="round"/><path d="M158.2,368.5 L162.0,366.0 L166.7,364.2 L172.4,368.5 L176.7,377.0 L181.0,388.4 L185.2,396.9 L188.1,405.5 L189.5,411.1" fill="none" stroke="#2a2a2a" stroke-width="1.0" stroke-linejoin="round" stroke-linecap="round"/><path d="M165.3,355.7 L171.0,358.5 L172.4,362.8" fill="none" stroke="#2a2a2a" stroke-width="1.0" stroke-linejoin="round" stroke-linecap="round"/><path d="M93.7,408.1 L96.3,407.3 L99.3,408.1 L103,405.8 L107.5,404.3 L112.1,404.3 L115.8,402.1 L119.6,399.8 L124.1,397.6 L128.6,396.1 L133.1,393.1 L136.1,390.8 L139.1,388.5 L143.6,385.5 L147.4,381.8 L148.9,378 L151.2,379.5 L155.7,381.8 L157.9,384 L157.2,387 L154.2,390 L149.7,392.3 L145.1,393.1 L140.6,395.3 L136.1,397.6 L131.6,399.1 L127.1,402.1 L122.6,403.6 L118.1,405.8 L113.6,408.8 L109.1,411.1 L104.5,412.6 L100,413.4 L96.3,412.6 L94,411.8 L93.3,409.6 Z" fill="#111" stroke="#111" stroke-width="0.6" stroke-linejoin="round"/>
<ellipse cx="188.4" cy="362.2" rx="3.3" ry="1.8" transform="rotate(-25 188.4 362.2)" fill="#111"/>
<path d="M85.5,421 L88,426 L86.5,430 L84.8,425 Z" fill="#111"/>
<path d="M285,451 L288.5,449.5 L288,454 Z" fill="#111"/>

<path d="M61.00,310.90L61.00,284.20A26.70,26.70 0 0 1 65.45,337.23Z" fill="#1672ca"/><path d="M61.00,310.90L65.45,337.23A26.70,26.70 0 1 1 61.00,284.20Z" fill="#ff8122"/><line x1="61.0" y1="310.9" x2="61.00" y2="284.20" stroke="#ffffff" stroke-width="1.0"/><line x1="61.0" y1="310.9" x2="65.45" y2="337.23" stroke="#ffffff" stroke-width="1.0"/>
<path d="M54.60,387.30L54.60,360.60A26.70,26.70 0 0 1 81.13,384.28Z" fill="#1672ca"/><path d="M54.60,387.30L81.13,384.28A26.70,26.70 0 1 1 54.60,360.60Z" fill="#ff8122"/><line x1="54.6" y1="387.3" x2="54.60" y2="360.60" stroke="#ffffff" stroke-width="1.0"/><line x1="54.6" y1="387.3" x2="81.13" y2="384.28" stroke="#ffffff" stroke-width="1.0"/>
<path d="M241.10,405.10L241.10,378.60A26.50,26.50 0 0 1 253.25,381.55Z" fill="#1672ca"/><path d="M241.10,405.10L253.25,381.55A26.50,26.50 0 1 1 241.10,378.60Z" fill="#ff8122"/><line x1="241.1" y1="405.1" x2="241.10" y2="378.60" stroke="#ffffff" stroke-width="1.0"/><line x1="241.1" y1="405.1" x2="253.25" y2="381.55" stroke="#ffffff" stroke-width="1.0"/>
<path d="M296.50,376.70L296.50,350.10A26.60,26.60 0 0 1 308.08,400.65Z" fill="#1672ca"/><path d="M296.50,376.70L308.08,400.65A26.60,26.60 0 1 1 296.50,350.10Z" fill="#ff8122"/><line x1="296.5" y1="376.7" x2="296.50" y2="350.10" stroke="#ffffff" stroke-width="1.0"/><line x1="296.5" y1="376.7" x2="308.08" y2="400.65" stroke="#ffffff" stroke-width="1.0"/>
<circle cx="327.0" cy="301.9" r="26.5" fill="#ff8122"/><line x1="327.0" y1="301.9" x2="327.00" y2="275.40" stroke="#ffffff" stroke-width="1.0"/>
<path d="M392.90,326.10L392.90,299.40A26.70,26.70 0 0 1 412.52,344.21Z" fill="#1672ca"/><path d="M392.90,326.10L412.52,344.21A26.70,26.70 0 1 1 392.90,299.40Z" fill="#ff8122"/><line x1="392.9" y1="326.1" x2="392.90" y2="299.40" stroke="#ffffff" stroke-width="1.0"/><line x1="392.9" y1="326.1" x2="412.52" y2="344.21" stroke="#ffffff" stroke-width="1.0"/>
<path d="M150.50,497.20L150.50,470.40A26.80,26.80 0 0 1 166.21,518.91Z" fill="#1672ca"/><path d="M150.50,497.20L166.21,518.91A26.80,26.80 0 1 1 150.50,470.40Z" fill="#ff8122"/><line x1="150.5" y1="497.2" x2="150.50" y2="470.40" stroke="#ffffff" stroke-width="1.0"/><line x1="150.5" y1="497.2" x2="166.21" y2="518.91" stroke="#ffffff" stroke-width="1.0"/>
</svg>
<svg width="492" height="550" style="position:absolute;left:0;top:0"><rect x="42" y="266" width="37.00" height="11.00" fill="#0632f4"/><text x="43.70" y="274.30" font-family="Liberation Sans, sans-serif" font-size="8.0" fill="#fff" stroke="#fff" stroke-width="0.2" textLength="33.60" lengthAdjust="spacingAndGlyphs">Lake fertő</text></svg>
<svg width="492" height="550" style="position:absolute;left:0;top:0"><rect x="22" y="342" width="64.50" height="11.20" fill="#0632f4"/><text x="23.70" y="350.30" font-family="Liberation Sans, sans-serif" font-size="8.0" fill="#fff" stroke="#fff" stroke-width="0.2" textLength="61.10" lengthAdjust="spacingAndGlyphs">Csörnöc-Herpenyő</text></svg>
<svg width="492" height="550" style="position:absolute;left:0;top:0"><rect x="222" y="360" width="38.50" height="11.00" fill="#0632f4"/><text x="223.70" y="368.30" font-family="Liberation Sans, sans-serif" font-size="8.0" fill="#fff" stroke="#fff" stroke-width="0.2" textLength="35.10" lengthAdjust="spacingAndGlyphs">Lake Kolon</text></svg>
<svg width="492" height="550" style="position:absolute;left:0;top:0"><rect x="270.4" y="332" width="52.40" height="11.60" fill="#0632f4"/><text x="272.10" y="340.30" font-family="Liberation Sans, sans-serif" font-size="8.0" fill="#fff" stroke="#fff" stroke-width="0.2" textLength="49.00" lengthAdjust="spacingAndGlyphs">Cibakházi-Tisza</text></svg>
<svg width="492" height="550" style="position:absolute;left:0;top:0"><rect x="312.5" y="257.3" width="28.70" height="11.50" fill="#0632f4"/><text x="314.20" y="265.60" font-family="Liberation Sans, sans-serif" font-size="8.0" fill="#fff" stroke="#fff" stroke-width="0.2" textLength="25.30" lengthAdjust="spacingAndGlyphs">Tisza-tó</text></svg>
<svg width="492" height="550" style="position:absolute;left:0;top:0"><rect x="376.3" y="281.1" width="33.00" height="11.00" fill="#0632f4"/><text x="378.00" y="289.40" font-family="Liberation Sans, sans-serif" font-size="8.0" fill="#fff" stroke="#fff" stroke-width="0.2" textLength="29.60" lengthAdjust="spacingAndGlyphs">Derecske</text></svg>
<svg width="492" height="550" style="position:absolute;left:0;top:0"><rect x="126.5" y="452.4" width="48.10" height="11.00" fill="#0632f4"/><text x="128.20" y="460.70" font-family="Liberation Sans, sans-serif" font-size="8.0" fill="#fff" stroke="#fff" stroke-width="0.2" textLength="44.70" lengthAdjust="spacingAndGlyphs">Cun-Szaporca</text></svg>
<div style="position:absolute;left:299.5px;top:495.8px;width:4.5px;height:4.3px;background:#1672ca"></div>
<div style="position:absolute;left:299.5px;top:530.1px;width:4.5px;height:4.3px;background:#ff8122"></div>
<svg width="492" height="550" style="position:absolute;left:0;top:0"><text x="307.7" y="501.4" font-family="Liberation Sans, sans-serif" font-size="9.6" fill="#595959" stroke="#595959" stroke-width="0.2" textLength="111.5" lengthAdjust="spacingAndGlyphs">Western haplotypegroup</text><text x="307.7" y="535.5" font-family="Liberation Sans, sans-serif" font-size="9.6" fill="#595959" stroke="#595959" stroke-width="0.2" textLength="107.5" lengthAdjust="spacingAndGlyphs">Eastern haplotypegroup</text></svg>
</body></html>
